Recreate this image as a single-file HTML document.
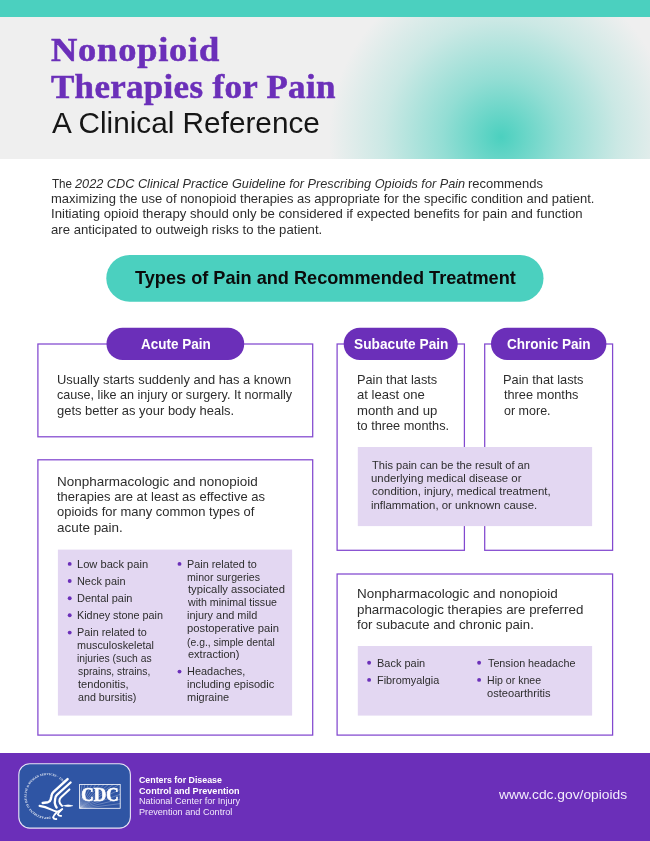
<!DOCTYPE html>
<html><head><meta charset="utf-8"><title>Nonopioid Therapies for Pain</title>
<style>
html,body{margin:0;padding:0;background:#fff;}
body{width:650px;height:841px;position:relative;overflow:hidden;font-family:"Liberation Sans",sans-serif;color:#1a1a1a;}
.a{position:absolute;}
.t{position:absolute;white-space:pre;line-height:1;transform-origin:0 50%;color:#2d2d2d;}
</style></head><body>
<div class="a" style="left:0;top:0;width:650px;height:17px;background:#4bd0bf"></div>
<div class="a" style="left:0;top:17px;width:650px;height:142px;background:#efefef;overflow:hidden">
  <div class="a" style="left:0;top:0;width:650px;height:142px;background:radial-gradient(circle 172px at 501px 120px, rgba(75,208,191,1) 0%, rgba(75,208,191,0.56) 34%, rgba(75,208,191,0.22) 68%, rgba(75,208,191,0) 100%)"></div>
</div>


<!-- boxes -->
<svg class="a" style="left:0;top:0" width="650" height="841" fill="#fff" stroke="#8248cf" stroke-width="1.25">
<rect x="37.9" y="344.0" width="274.8" height="92.8"/>
<rect x="37.9" y="459.8" width="274.8" height="275.3"/>
<rect x="337.1" y="344.0" width="127.3" height="206.3"/>
<rect x="484.7" y="344.0" width="127.9" height="206.3"/>
<rect x="337.1" y="574.0" width="275.5" height="161.1"/>
</svg>



<svg class="a" style="left:0;top:0" width="650" height="841">
<rect x="106.3" y="254.9" width="437.2" height="46.8" rx="23.4" fill="#4bd0bf"/>
<g fill="#e3d7f2">
<rect x="57.9" y="549.6" width="234.2" height="166"/>
<rect x="357.8" y="447" width="234.3" height="79.1"/>
<rect x="357.8" y="646" width="234.3" height="69.6"/>
</g>
<g fill="#6b2fb9">
<rect x="106.5" y="327.8" width="137.7" height="32.3" rx="16.15"/>
<rect x="343.7" y="327.8" width="114" height="32.3" rx="16.15"/>
<rect x="491" y="327.8" width="115.4" height="32.3" rx="16.15"/>
</g>
</svg>
<!-- footer -->
<div class="a" style="left:0;top:753.1px;width:650px;height:88px;background:#6b2fb9"></div>
<svg class="a" style="left:0;top:753px;will-change:transform" width="650" height="88" viewBox="0 753 650 88">
<rect x="18.8" y="763.7" width="111.6" height="64.4" rx="11" ry="11" fill="#2f55a4" stroke="#e9e4f6" stroke-width="1.1"/>
<g font-family="Liberation Serif,serif" font-size="3.1" font-weight="700" fill="#fff" opacity="0.92"><text transform="translate(49.50,816.79) rotate(174.2)" text-anchor="middle">D</text><text transform="translate(47.23,816.90) rotate(180.5)" text-anchor="middle">E</text><text transform="translate(45.13,816.78) rotate(186.2)" text-anchor="middle">P</text><text transform="translate(42.98,816.43) rotate(192.2)" text-anchor="middle">A</text><text transform="translate(40.70,815.80) rotate(198.7)" text-anchor="middle">R</text><text transform="translate(38.59,814.95) rotate(204.9)" text-anchor="middle">T</text><text transform="translate(36.30,813.71) rotate(212.1)" text-anchor="middle">M</text><text transform="translate(34.17,812.18) rotate(219.3)" text-anchor="middle">E</text><text transform="translate(32.49,810.65) rotate(225.5)" text-anchor="middle">N</text><text transform="translate(30.99,808.94) rotate(231.7)" text-anchor="middle">T</text><text transform="translate(29.18,806.24) rotate(240.7)" text-anchor="middle">O</text><text transform="translate(28.18,804.21) rotate(246.9)" text-anchor="middle">F</text><text transform="translate(27.16,801.21) rotate(255.6)" text-anchor="middle">H</text><text transform="translate(26.70,798.90) rotate(262.0)" text-anchor="middle">E</text><text transform="translate(26.51,796.63) rotate(268.3)" text-anchor="middle">A</text><text transform="translate(26.56,794.36) rotate(274.5)" text-anchor="middle">L</text><text transform="translate(26.85,792.19) rotate(280.5)" text-anchor="middle">T</text><text transform="translate(27.41,789.90) rotate(287.0)" text-anchor="middle">H</text><text transform="translate(28.71,786.64) rotate(296.6)" text-anchor="middle">&amp;</text><text transform="translate(30.54,783.65) rotate(306.2)" text-anchor="middle">H</text><text transform="translate(32.10,781.77) rotate(312.9)" text-anchor="middle">U</text><text transform="translate(34.06,779.91) rotate(320.3)" text-anchor="middle">M</text><text transform="translate(36.24,778.33) rotate(327.7)" text-anchor="middle">A</text><text transform="translate(38.31,777.18) rotate(334.2)" text-anchor="middle">N</text><text transform="translate(41.09,776.08) rotate(342.4)" text-anchor="middle">S</text><text transform="translate(43.04,775.56) rotate(347.9)" text-anchor="middle">E</text><text transform="translate(45.28,775.21) rotate(354.2)" text-anchor="middle">R</text><text transform="translate(47.63,775.10) rotate(360.6)" text-anchor="middle">V</text><text transform="translate(49.47,775.20) rotate(365.7)" text-anchor="middle">I</text><text transform="translate(51.30,775.47) rotate(370.7)" text-anchor="middle">C</text><text transform="translate(53.50,776.01) rotate(377.0)" text-anchor="middle">E</text><text transform="translate(55.40,776.69) rotate(382.5)" text-anchor="middle">S</text><text transform="translate(57.55,777.73) rotate(389.1)" text-anchor="middle">·</text><text transform="translate(59.78,779.16) rotate(396.3)" text-anchor="middle">U</text><text transform="translate(61.41,780.49) rotate(402.1)" text-anchor="middle">S</text><text transform="translate(62.90,781.98) rotate(407.9)" text-anchor="middle">A</text></g>
<g transform="translate(36,774) scale(0.061538)" fill="none" stroke="#fff" stroke-linecap="round" stroke-linejoin="round">
<path d="M513,82 L285,292 Q255,320 250,360 L240,410 Q232,448 195,458 L108,470" stroke-width="40"/>
<path d="M562,138 L340,340 Q312,368 310,410 L305,470 Q310,510 335,545" stroke-width="38"/>
<path d="M543,250 L402,382 Q378,408 380,445 Q382,490 425,520" stroke-width="33"/>
<path d="M58,518 Q150,530 240,575 Q300,605 345,612 Q400,600 425,570" stroke-width="34"/>
<path d="M445,515 Q520,488 602,515 Q520,548 445,515Z" fill="#fff" stroke-width="6"/>
<path d="M335,625 Q290,665 278,705 Q290,738 330,732" stroke-width="30"/>
<path d="M405,590 Q365,625 355,655 Q372,688 410,680" stroke-width="28"/>
</g>
<path d="M79.6,804.0L82.0,784.4M79.6,806.5L84.9,784.4M79.6,807.4L88.3,784.4M79.6,807.8L91.8,784.4M79.6,808.1L95.7,784.4M79.6,808.3L99.7,784.4M79.7,808.3L104.1,784.4M79.8,808.3L108.5,784.4M80.0,808.3L113.4,784.4M80.1,808.3L119.3,784.4M80.5,808.3L120.2,789.4M81.0,808.3L120.2,794.3M81.9,808.3L120.2,799.2M84.3,808.3L120.2,803.6" stroke="#fff" stroke-width="0.35" opacity="0.75" fill="none"/>
<rect x="79.6" y="784.4" width="40.6" height="23.9" fill="none" stroke="#fff" stroke-width="0.8"/>
<text x="100" y="801.3" text-anchor="middle" font-family="Liberation Serif,serif" font-weight="700" font-size="19.6" fill="#fff" stroke="#fff" stroke-width="0.7" transform="translate(100,0) scale(0.88,1) translate(-100,0)">CDC</text>
</svg>


<div class="a" style="left:0;top:0;width:650px;height:841px;will-change:transform">
<svg class="a" style="left:0;top:0" width="650" height="841" fill="#6b2fb9"><circle cx="69.7" cy="563.9" r="1.95"/><circle cx="69.7" cy="581.0" r="1.95"/><circle cx="69.7" cy="598.2" r="1.95"/><circle cx="69.7" cy="615.3" r="1.95"/><circle cx="69.7" cy="632.6" r="1.95"/><circle cx="179.5" cy="563.9" r="1.95"/><circle cx="179.5" cy="671.6" r="1.95"/><circle cx="369.1" cy="662.8" r="1.95"/><circle cx="479.1" cy="662.8" r="1.95"/><circle cx="369.1" cy="679.9" r="1.95"/><circle cx="479.1" cy="679.9" r="1.95"/></svg>
<span class="t" style="left:51.31px;top:33.00px;font-size:33.6px;font-family:'Liberation Serif',serif;font-weight:700;color:#6b2fb9;letter-spacing:0.726px;transform:scaleX(1.0850);-webkit-text-stroke:0.55px #6b2fb9;">Nonopioid</span>
<span class="t" style="left:50.65px;top:70.00px;font-size:33.6px;font-family:'Liberation Serif',serif;font-weight:700;color:#6b2fb9;letter-spacing:0.319px;transform:scaleX(1.0400);-webkit-text-stroke:0.55px #6b2fb9;">Therapies for Pain</span>
<span class="t" style="left:52.34px;top:108.00px;font-size:29.4px;color:#161616;transform:scaleX(1.0122);">A Clinical Reference</span>
<span class="t" style="left:52.04px;top:178.00px;font-size:12.7px;transform:scaleX(0.9179);">The</span>
<span class="t" style="left:75.37px;top:178.00px;font-size:12.7px;font-style:italic;transform:scaleX(1.0024);">2022 CDC Clinical Practice Guideline for Prescribing Opioids for Pain</span>
<span class="t" style="left:468.14px;top:178.00px;font-size:12.7px;transform:scaleX(1.0216);">recommends</span>
<span class="t" style="left:50.84px;top:193.00px;font-size:12.7px;transform:scaleX(1.0231);">maximizing the use of nonopioid therapies as appropriate for the specific condition and patient.</span>
<span class="t" style="left:50.78px;top:208.00px;font-size:12.7px;transform:scaleX(1.0368);">Initiating opioid therapy should only be considered if expected benefits for pain and function</span>
<span class="t" style="left:50.94px;top:224.00px;font-size:12.7px;transform:scaleX(1.0366);">are anticipated to outweigh risks to the patient.</span>
<span class="t" style="left:134.90px;top:268.00px;font-size:19px;font-weight:700;color:#0b0b0b;transform:scaleX(0.9550);">Types of Pain and Recommended Treatment</span>
<span class="t" style="left:140.76px;top:337.00px;font-size:14.4px;font-weight:700;color:#fff;transform:scaleX(0.9368);">Acute Pain</span>
<span class="t" style="left:354.10px;top:337.00px;font-size:14.4px;font-weight:700;color:#fff;transform:scaleX(0.9523);">Subacute Pain</span>
<span class="t" style="left:507.04px;top:337.00px;font-size:14.4px;font-weight:700;color:#fff;transform:scaleX(0.9418);">Chronic Pain</span>
<span class="t" style="left:56.60px;top:374.00px;font-size:12.7px;transform:scaleX(1.0188);">Usually starts suddenly and has a known</span>
<span class="t" style="left:56.86px;top:389.00px;font-size:12.7px;transform:scaleX(0.9931);">cause, like an injury or surgery. It normally</span>
<span class="t" style="left:56.86px;top:405.00px;font-size:12.7px;transform:scaleX(1.0209);">gets better as your body heals.</span>
<span class="t" style="left:56.59px;top:476.00px;font-size:12.7px;transform:scaleX(1.0620);">Nonpharmacologic and nonopioid</span>
<span class="t" style="left:57.20px;top:491.00px;font-size:12.7px;transform:scaleX(1.0255);">therapies are at least as effective as</span>
<span class="t" style="left:56.86px;top:506.00px;font-size:12.7px;transform:scaleX(1.0218);">opioids for many common types of</span>
<span class="t" style="left:56.83px;top:522.00px;font-size:12.7px;transform:scaleX(1.0600);">acute pain.</span>
<span class="t" style="left:77.09px;top:559.00px;font-size:10.5px;transform:scaleX(1.0595);">Low back pain</span>
<span class="t" style="left:77.11px;top:576.00px;font-size:10.5px;transform:scaleX(1.0385);">Neck pain</span>
<span class="t" style="left:77.10px;top:593.00px;font-size:10.5px;transform:scaleX(1.0430);">Dental pain</span>
<span class="t" style="left:77.11px;top:610.00px;font-size:10.5px;transform:scaleX(1.0300);">Kidney stone pain</span>
<span class="t" style="left:77.11px;top:627.00px;font-size:10.5px;transform:scaleX(1.0314);">Pain related to</span>
<span class="t" style="left:77.28px;top:640.00px;font-size:10.5px;transform:scaleX(1.0300);">musculoskeletal</span>
<span class="t" style="left:77.31px;top:653.00px;font-size:10.5px;transform:scaleX(0.9827);">injuries (such as</span>
<span class="t" style="left:77.71px;top:666.00px;font-size:10.5px;transform:scaleX(0.9835);">sprains, strains,</span>
<span class="t" style="left:77.83px;top:679.00px;font-size:10.5px;transform:scaleX(1.0562);">tendonitis,</span>
<span class="t" style="left:77.54px;top:692.00px;font-size:10.5px;transform:scaleX(1.0213);">and bursitis)</span>
<span class="t" style="left:187.11px;top:559.00px;font-size:10.5px;transform:scaleX(1.0314);">Pain related to</span>
<span class="t" style="left:187.30px;top:572.00px;font-size:10.5px;transform:scaleX(1.0087);">minor surgeries</span>
<span class="t" style="left:187.83px;top:584.00px;font-size:10.5px;transform:scaleX(1.0710);">typically associated</span>
<span class="t" style="left:188.02px;top:597.00px;font-size:10.5px;transform:scaleX(1.0096);">with minimal tissue</span>
<span class="t" style="left:187.27px;top:610.00px;font-size:10.5px;transform:scaleX(1.0388);">injury and mild</span>
<span class="t" style="left:187.27px;top:623.00px;font-size:10.5px;transform:scaleX(1.0716);">postoperative pain</span>
<span class="t" style="left:187.36px;top:637.00px;font-size:10.5px;transform:scaleX(0.9901);">(e.g., simple dental</span>
<span class="t" style="left:187.53px;top:649.00px;font-size:10.5px;transform:scaleX(1.0473);">extraction)</span>
<span class="t" style="left:187.10px;top:666.00px;font-size:10.5px;transform:scaleX(1.0416);">Headaches,</span>
<span class="t" style="left:187.26px;top:679.00px;font-size:10.5px;transform:scaleX(1.0524);">including episodic</span>
<span class="t" style="left:187.27px;top:692.00px;font-size:10.5px;transform:scaleX(1.0456);">migraine</span>
<span class="t" style="left:356.55px;top:374.00px;font-size:12.7px;transform:scaleX(1.0064);">Pain that lasts</span>
<span class="t" style="left:356.84px;top:389.00px;font-size:12.7px;transform:scaleX(1.0325);">at least one</span>
<span class="t" style="left:356.63px;top:405.00px;font-size:12.7px;transform:scaleX(1.0339);">month and up</span>
<span class="t" style="left:357.31px;top:420.00px;font-size:12.7px;transform:scaleX(1.0040);">to three months.</span>
<span class="t" style="left:503.15px;top:374.00px;font-size:12.7px;transform:scaleX(1.0102);">Pain that lasts</span>
<span class="t" style="left:504.01px;top:389.00px;font-size:12.7px;transform:scaleX(1.0039);">three months</span>
<span class="t" style="left:503.67px;top:405.00px;font-size:12.7px;transform:scaleX(0.9856);">or more.</span>
<span class="t" style="left:372.25px;top:460.00px;font-size:10.5px;transform:scaleX(1.0571);">This pain can be the result of an</span>
<span class="t" style="left:371.46px;top:473.00px;font-size:10.5px;transform:scaleX(1.0828);">underlying medical disease or</span>
<span class="t" style="left:371.72px;top:486.00px;font-size:10.5px;transform:scaleX(1.0865);">condition, injury, medical treatment,</span>
<span class="t" style="left:371.44px;top:500.00px;font-size:10.5px;transform:scaleX(1.0827);">inflammation, or unknown cause.</span>
<span class="t" style="left:356.59px;top:588.00px;font-size:12.7px;transform:scaleX(1.0620);">Nonpharmacologic and nonopioid</span>
<span class="t" style="left:356.54px;top:604.00px;font-size:12.7px;transform:scaleX(1.0521);">pharmacologic therapies are preferred</span>
<span class="t" style="left:357.21px;top:619.00px;font-size:12.7px;transform:scaleX(1.0401);">for subacute and chronic pain.</span>
<span class="t" style="left:377.00px;top:658.00px;font-size:10.5px;transform:scaleX(1.0453);">Back pain</span>
<span class="t" style="left:377.01px;top:675.00px;font-size:10.5px;transform:scaleX(1.0346);">Fibromyalgia</span>
<span class="t" style="left:487.56px;top:658.00px;font-size:10.5px;transform:scaleX(1.0255);">Tension headache</span>
<span class="t" style="left:486.83px;top:675.00px;font-size:10.5px;transform:scaleX(1.0081);">Hip or knee</span>
<span class="t" style="left:486.83px;top:688.00px;font-size:10.5px;transform:scaleX(1.0575);">osteoarthritis</span>
<span class="t" style="left:139.14px;top:776.00px;font-size:9.3px;font-weight:700;color:#fff;transform:scaleX(0.9489);">Centers for Disease</span>
<span class="t" style="left:139.13px;top:787.00px;font-size:9.3px;font-weight:700;color:#fff;transform:scaleX(0.9790);">Control and Prevention</span>
<span class="t" style="left:138.75px;top:797.00px;font-size:9.3px;color:#f1eafb;transform:scaleX(0.9778);">National Center for Injury</span>
<span class="t" style="left:138.75px;top:808.00px;font-size:9.3px;color:#f1eafb;transform:scaleX(0.9818);">Prevention and Control</span>
<span class="t" style="left:498.52px;top:788.00px;font-size:13.1px;color:#f3ecfb;transform:scaleX(1.0546);">www.cdc.gov/opioids</span>
</div>
</body></html>
